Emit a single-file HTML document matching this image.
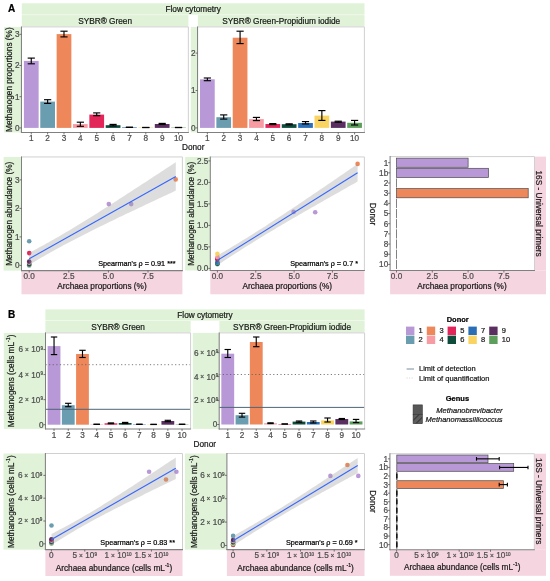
<!DOCTYPE html>
<html><head><meta charset="utf-8"><style>
html,body{margin:0;padding:0;background:#fff;}
svg{display:block;will-change:transform;filter:blur(0.35px);}
text{font-family:"Liberation Sans",sans-serif;}
</style></head><body>
<svg width="550" height="581" viewBox="0 0 550 581" font-family="Liberation Sans, sans-serif">
<rect x="0.00" y="0.00" width="550.00" height="581.00" fill="#FFFFFF" />
<text x="8.10" y="11.90" font-size="10" text-anchor="start" fill="#000" stroke="#000" stroke-width="0.22" font-weight="bold">A</text>
<rect x="21.80" y="3.30" width="342.70" height="11.30" fill="#E0F3D8" />
<text x="193.20" y="11.90" font-size="8.25" text-anchor="middle" fill="#1A1A1A" stroke="#1A1A1A" stroke-width="0.22" >Flow cytometry</text>
<rect x="21.80" y="15.10" width="166.60" height="11.30" fill="#E0F3D8" />
<text x="105.10" y="24.10" font-size="8.25" text-anchor="middle" fill="#1A1A1A" stroke="#1A1A1A" stroke-width="0.22" >SYBR® Green</text>
<rect x="197.90" y="15.10" width="166.60" height="11.30" fill="#E0F3D8" />
<text x="281.20" y="24.10" font-size="8.25" text-anchor="middle" fill="#1A1A1A" stroke="#1A1A1A" stroke-width="0.22" >SYBR® Green-Propidium iodide</text>
<rect x="4.10" y="26.90" width="17.35" height="105.55" fill="#E0F3D8" />
<rect x="21.45" y="26.90" width="166.90" height="105.55" fill="#FFFFFF" />
<rect x="23.90" y="60.90" width="14.73" height="67.00" fill="#B898D6" />
<rect x="40.27" y="101.60" width="14.73" height="26.30" fill="#6A9DB0" />
<rect x="56.63" y="34.10" width="14.73" height="93.80" fill="#EE885A" />
<rect x="72.99" y="124.10" width="14.73" height="3.80" fill="#F89CA3" />
<rect x="89.36" y="114.60" width="14.73" height="13.30" fill="#E3265A" />
<rect x="105.72" y="125.20" width="14.73" height="2.70" fill="#0E4C3C" />
<rect x="122.08" y="127.30" width="14.73" height="0.60" fill="#2A6EB6" />
<rect x="138.44" y="127.50" width="14.73" height="0.40" fill="#FAD463" />
<rect x="154.81" y="124.00" width="14.73" height="3.90" fill="#5A2E60" />
<rect x="171.17" y="127.50" width="14.73" height="0.40" fill="#5D9E5C" />
<line x1="31.27" y1="58.10" x2="31.27" y2="63.80" stroke="#000" stroke-width="1.15" />
<line x1="27.67" y1="58.10" x2="34.87" y2="58.10" stroke="#000" stroke-width="1.15" />
<line x1="27.67" y1="63.80" x2="34.87" y2="63.80" stroke="#000" stroke-width="1.15" />
<line x1="47.63" y1="99.70" x2="47.63" y2="103.40" stroke="#000" stroke-width="1.15" />
<line x1="44.03" y1="99.70" x2="51.23" y2="99.70" stroke="#000" stroke-width="1.15" />
<line x1="44.03" y1="103.40" x2="51.23" y2="103.40" stroke="#000" stroke-width="1.15" />
<line x1="63.99" y1="31.20" x2="63.99" y2="36.90" stroke="#000" stroke-width="1.15" />
<line x1="60.39" y1="31.20" x2="67.59" y2="31.20" stroke="#000" stroke-width="1.15" />
<line x1="60.39" y1="36.90" x2="67.59" y2="36.90" stroke="#000" stroke-width="1.15" />
<line x1="80.36" y1="122.20" x2="80.36" y2="126.30" stroke="#000" stroke-width="1.15" />
<line x1="76.76" y1="122.20" x2="83.96" y2="122.20" stroke="#000" stroke-width="1.15" />
<line x1="76.76" y1="126.30" x2="83.96" y2="126.30" stroke="#000" stroke-width="1.15" />
<line x1="96.72" y1="112.90" x2="96.72" y2="115.70" stroke="#000" stroke-width="1.15" />
<line x1="93.12" y1="112.90" x2="100.32" y2="112.90" stroke="#000" stroke-width="1.15" />
<line x1="93.12" y1="115.70" x2="100.32" y2="115.70" stroke="#000" stroke-width="1.15" />
<line x1="113.08" y1="124.40" x2="113.08" y2="125.90" stroke="#000" stroke-width="1.15" />
<line x1="109.48" y1="124.40" x2="116.68" y2="124.40" stroke="#000" stroke-width="1.15" />
<line x1="109.48" y1="125.90" x2="116.68" y2="125.90" stroke="#000" stroke-width="1.15" />
<line x1="129.44" y1="127.20" x2="129.44" y2="127.40" stroke="#000" stroke-width="1.15" />
<line x1="125.84" y1="127.20" x2="133.04" y2="127.20" stroke="#000" stroke-width="1.15" />
<line x1="125.84" y1="127.40" x2="133.04" y2="127.40" stroke="#000" stroke-width="1.15" />
<line x1="145.81" y1="127.40" x2="145.81" y2="127.60" stroke="#000" stroke-width="1.15" />
<line x1="142.21" y1="127.40" x2="149.41" y2="127.40" stroke="#000" stroke-width="1.15" />
<line x1="142.21" y1="127.60" x2="149.41" y2="127.60" stroke="#000" stroke-width="1.15" />
<line x1="162.17" y1="123.40" x2="162.17" y2="124.50" stroke="#000" stroke-width="1.15" />
<line x1="158.57" y1="123.40" x2="165.77" y2="123.40" stroke="#000" stroke-width="1.15" />
<line x1="158.57" y1="124.50" x2="165.77" y2="124.50" stroke="#000" stroke-width="1.15" />
<line x1="178.53" y1="127.40" x2="178.53" y2="127.60" stroke="#000" stroke-width="1.15" />
<line x1="174.93" y1="127.40" x2="182.13" y2="127.40" stroke="#000" stroke-width="1.15" />
<line x1="174.93" y1="127.60" x2="182.13" y2="127.60" stroke="#000" stroke-width="1.15" />
<line x1="21.45" y1="26.90" x2="188.35" y2="26.90" stroke="#D0D0D0" stroke-width="1" />
<line x1="188.35" y1="26.90" x2="188.35" y2="132.45" stroke="#D0D0D0" stroke-width="1" />
<line x1="21.45" y1="26.40" x2="21.45" y2="132.95" stroke="#808080" stroke-width="1.05" />
<line x1="20.95" y1="132.45" x2="188.85" y2="132.45" stroke="#808080" stroke-width="1.05" />
<line x1="19.45" y1="127.90" x2="21.45" y2="127.90" stroke="#555555" stroke-width="0.8" />
<text x="19.55" y="130.84" font-size="8.2" text-anchor="end" fill="#4D4D4D" stroke="#4D4D4D" stroke-width="0.22" >0</text>
<line x1="19.45" y1="96.70" x2="21.45" y2="96.70" stroke="#555555" stroke-width="0.8" />
<text x="19.55" y="99.64" font-size="8.2" text-anchor="end" fill="#4D4D4D" stroke="#4D4D4D" stroke-width="0.22" >1</text>
<line x1="19.45" y1="65.50" x2="21.45" y2="65.50" stroke="#555555" stroke-width="0.8" />
<text x="19.55" y="68.44" font-size="8.2" text-anchor="end" fill="#4D4D4D" stroke="#4D4D4D" stroke-width="0.22" >2</text>
<line x1="19.45" y1="34.30" x2="21.45" y2="34.30" stroke="#555555" stroke-width="0.8" />
<text x="19.55" y="37.24" font-size="8.2" text-anchor="end" fill="#4D4D4D" stroke="#4D4D4D" stroke-width="0.22" >3</text>
<line x1="31.27" y1="132.45" x2="31.27" y2="134.45" stroke="#555555" stroke-width="0.8" />
<text x="31.27" y="141.20" font-size="8.2" text-anchor="middle" fill="#4D4D4D" stroke="#4D4D4D" stroke-width="0.22" >1</text>
<line x1="47.63" y1="132.45" x2="47.63" y2="134.45" stroke="#555555" stroke-width="0.8" />
<text x="47.63" y="141.20" font-size="8.2" text-anchor="middle" fill="#4D4D4D" stroke="#4D4D4D" stroke-width="0.22" >2</text>
<line x1="63.99" y1="132.45" x2="63.99" y2="134.45" stroke="#555555" stroke-width="0.8" />
<text x="63.99" y="141.20" font-size="8.2" text-anchor="middle" fill="#4D4D4D" stroke="#4D4D4D" stroke-width="0.22" >3</text>
<line x1="80.36" y1="132.45" x2="80.36" y2="134.45" stroke="#555555" stroke-width="0.8" />
<text x="80.36" y="141.20" font-size="8.2" text-anchor="middle" fill="#4D4D4D" stroke="#4D4D4D" stroke-width="0.22" >4</text>
<line x1="96.72" y1="132.45" x2="96.72" y2="134.45" stroke="#555555" stroke-width="0.8" />
<text x="96.72" y="141.20" font-size="8.2" text-anchor="middle" fill="#4D4D4D" stroke="#4D4D4D" stroke-width="0.22" >5</text>
<line x1="113.08" y1="132.45" x2="113.08" y2="134.45" stroke="#555555" stroke-width="0.8" />
<text x="113.08" y="141.20" font-size="8.2" text-anchor="middle" fill="#4D4D4D" stroke="#4D4D4D" stroke-width="0.22" >6</text>
<line x1="129.44" y1="132.45" x2="129.44" y2="134.45" stroke="#555555" stroke-width="0.8" />
<text x="129.44" y="141.20" font-size="8.2" text-anchor="middle" fill="#4D4D4D" stroke="#4D4D4D" stroke-width="0.22" >7</text>
<line x1="145.81" y1="132.45" x2="145.81" y2="134.45" stroke="#555555" stroke-width="0.8" />
<text x="145.81" y="141.20" font-size="8.2" text-anchor="middle" fill="#4D4D4D" stroke="#4D4D4D" stroke-width="0.22" >8</text>
<line x1="162.17" y1="132.45" x2="162.17" y2="134.45" stroke="#555555" stroke-width="0.8" />
<text x="162.17" y="141.20" font-size="8.2" text-anchor="middle" fill="#4D4D4D" stroke="#4D4D4D" stroke-width="0.22" >9</text>
<line x1="178.53" y1="132.45" x2="178.53" y2="134.45" stroke="#555555" stroke-width="0.8" />
<text x="178.53" y="141.20" font-size="8.2" text-anchor="middle" fill="#4D4D4D" stroke="#4D4D4D" stroke-width="0.22" >10</text>
<text transform="translate(11.80,79.60) rotate(-90)" font-size="8.25" text-anchor="middle" fill="#1A1A1A" stroke="#1A1A1A" stroke-width="0.22" dy="0">Methanogen proportions (%)</text>
<rect x="190.80" y="26.90" width="6.75" height="105.55" fill="#E0F3D8" />
<rect x="197.55" y="26.90" width="166.85" height="105.55" fill="#FFFFFF" />
<rect x="200.00" y="79.30" width="14.72" height="48.60" fill="#B898D6" />
<rect x="216.36" y="117.20" width="14.72" height="10.70" fill="#6A9DB0" />
<rect x="232.72" y="37.70" width="14.72" height="90.20" fill="#EE885A" />
<rect x="249.08" y="119.10" width="14.72" height="8.80" fill="#F89CA3" />
<rect x="265.44" y="124.00" width="14.72" height="3.90" fill="#E3265A" />
<rect x="281.79" y="124.20" width="14.72" height="3.70" fill="#0E4C3C" />
<rect x="298.15" y="123.00" width="14.72" height="4.90" fill="#2A6EB6" />
<rect x="314.51" y="115.60" width="14.72" height="12.30" fill="#FAD463" />
<rect x="330.87" y="121.60" width="14.72" height="6.30" fill="#5A2E60" />
<rect x="347.22" y="122.80" width="14.72" height="5.10" fill="#5D9E5C" />
<line x1="207.36" y1="78.00" x2="207.36" y2="80.70" stroke="#000" stroke-width="1.15" />
<line x1="203.76" y1="78.00" x2="210.96" y2="78.00" stroke="#000" stroke-width="1.15" />
<line x1="203.76" y1="80.70" x2="210.96" y2="80.70" stroke="#000" stroke-width="1.15" />
<line x1="223.72" y1="114.90" x2="223.72" y2="119.10" stroke="#000" stroke-width="1.15" />
<line x1="220.12" y1="114.90" x2="227.32" y2="114.90" stroke="#000" stroke-width="1.15" />
<line x1="220.12" y1="119.10" x2="227.32" y2="119.10" stroke="#000" stroke-width="1.15" />
<line x1="240.08" y1="31.20" x2="240.08" y2="43.60" stroke="#000" stroke-width="1.15" />
<line x1="236.48" y1="31.20" x2="243.68" y2="31.20" stroke="#000" stroke-width="1.15" />
<line x1="236.48" y1="43.60" x2="243.68" y2="43.60" stroke="#000" stroke-width="1.15" />
<line x1="256.44" y1="117.40" x2="256.44" y2="120.60" stroke="#000" stroke-width="1.15" />
<line x1="252.84" y1="117.40" x2="260.04" y2="117.40" stroke="#000" stroke-width="1.15" />
<line x1="252.84" y1="120.60" x2="260.04" y2="120.60" stroke="#000" stroke-width="1.15" />
<line x1="272.80" y1="123.60" x2="272.80" y2="124.60" stroke="#000" stroke-width="1.15" />
<line x1="269.20" y1="123.60" x2="276.40" y2="123.60" stroke="#000" stroke-width="1.15" />
<line x1="269.20" y1="124.60" x2="276.40" y2="124.60" stroke="#000" stroke-width="1.15" />
<line x1="289.15" y1="123.80" x2="289.15" y2="124.80" stroke="#000" stroke-width="1.15" />
<line x1="285.55" y1="123.80" x2="292.75" y2="123.80" stroke="#000" stroke-width="1.15" />
<line x1="285.55" y1="124.80" x2="292.75" y2="124.80" stroke="#000" stroke-width="1.15" />
<line x1="305.51" y1="121.60" x2="305.51" y2="124.00" stroke="#000" stroke-width="1.15" />
<line x1="301.91" y1="121.60" x2="309.11" y2="121.60" stroke="#000" stroke-width="1.15" />
<line x1="301.91" y1="124.00" x2="309.11" y2="124.00" stroke="#000" stroke-width="1.15" />
<line x1="321.87" y1="110.60" x2="321.87" y2="120.40" stroke="#000" stroke-width="1.15" />
<line x1="318.27" y1="110.60" x2="325.47" y2="110.60" stroke="#000" stroke-width="1.15" />
<line x1="318.27" y1="120.40" x2="325.47" y2="120.40" stroke="#000" stroke-width="1.15" />
<line x1="338.23" y1="121.20" x2="338.23" y2="122.20" stroke="#000" stroke-width="1.15" />
<line x1="334.63" y1="121.20" x2="341.83" y2="121.20" stroke="#000" stroke-width="1.15" />
<line x1="334.63" y1="122.20" x2="341.83" y2="122.20" stroke="#000" stroke-width="1.15" />
<line x1="354.59" y1="120.40" x2="354.59" y2="125.00" stroke="#000" stroke-width="1.15" />
<line x1="350.99" y1="120.40" x2="358.19" y2="120.40" stroke="#000" stroke-width="1.15" />
<line x1="350.99" y1="125.00" x2="358.19" y2="125.00" stroke="#000" stroke-width="1.15" />
<line x1="197.55" y1="26.90" x2="364.40" y2="26.90" stroke="#D0D0D0" stroke-width="1" />
<line x1="364.40" y1="26.90" x2="364.40" y2="132.45" stroke="#D0D0D0" stroke-width="1" />
<line x1="197.55" y1="26.40" x2="197.55" y2="132.95" stroke="#808080" stroke-width="1.05" />
<line x1="197.05" y1="132.45" x2="364.90" y2="132.45" stroke="#808080" stroke-width="1.05" />
<line x1="195.55" y1="127.90" x2="197.55" y2="127.90" stroke="#555555" stroke-width="0.8" />
<text x="195.65" y="130.84" font-size="8.2" text-anchor="end" fill="#4D4D4D" stroke="#4D4D4D" stroke-width="0.22" >0</text>
<line x1="195.55" y1="90.50" x2="197.55" y2="90.50" stroke="#555555" stroke-width="0.8" />
<text x="195.65" y="93.44" font-size="8.2" text-anchor="end" fill="#4D4D4D" stroke="#4D4D4D" stroke-width="0.22" >1</text>
<line x1="195.55" y1="53.10" x2="197.55" y2="53.10" stroke="#555555" stroke-width="0.8" />
<text x="195.65" y="56.04" font-size="8.2" text-anchor="end" fill="#4D4D4D" stroke="#4D4D4D" stroke-width="0.22" >2</text>
<line x1="207.36" y1="132.45" x2="207.36" y2="134.45" stroke="#555555" stroke-width="0.8" />
<text x="207.36" y="141.20" font-size="8.2" text-anchor="middle" fill="#4D4D4D" stroke="#4D4D4D" stroke-width="0.22" >1</text>
<line x1="223.72" y1="132.45" x2="223.72" y2="134.45" stroke="#555555" stroke-width="0.8" />
<text x="223.72" y="141.20" font-size="8.2" text-anchor="middle" fill="#4D4D4D" stroke="#4D4D4D" stroke-width="0.22" >2</text>
<line x1="240.08" y1="132.45" x2="240.08" y2="134.45" stroke="#555555" stroke-width="0.8" />
<text x="240.08" y="141.20" font-size="8.2" text-anchor="middle" fill="#4D4D4D" stroke="#4D4D4D" stroke-width="0.22" >3</text>
<line x1="256.44" y1="132.45" x2="256.44" y2="134.45" stroke="#555555" stroke-width="0.8" />
<text x="256.44" y="141.20" font-size="8.2" text-anchor="middle" fill="#4D4D4D" stroke="#4D4D4D" stroke-width="0.22" >4</text>
<line x1="272.80" y1="132.45" x2="272.80" y2="134.45" stroke="#555555" stroke-width="0.8" />
<text x="272.80" y="141.20" font-size="8.2" text-anchor="middle" fill="#4D4D4D" stroke="#4D4D4D" stroke-width="0.22" >5</text>
<line x1="289.15" y1="132.45" x2="289.15" y2="134.45" stroke="#555555" stroke-width="0.8" />
<text x="289.15" y="141.20" font-size="8.2" text-anchor="middle" fill="#4D4D4D" stroke="#4D4D4D" stroke-width="0.22" >6</text>
<line x1="305.51" y1="132.45" x2="305.51" y2="134.45" stroke="#555555" stroke-width="0.8" />
<text x="305.51" y="141.20" font-size="8.2" text-anchor="middle" fill="#4D4D4D" stroke="#4D4D4D" stroke-width="0.22" >7</text>
<line x1="321.87" y1="132.45" x2="321.87" y2="134.45" stroke="#555555" stroke-width="0.8" />
<text x="321.87" y="141.20" font-size="8.2" text-anchor="middle" fill="#4D4D4D" stroke="#4D4D4D" stroke-width="0.22" >8</text>
<line x1="338.23" y1="132.45" x2="338.23" y2="134.45" stroke="#555555" stroke-width="0.8" />
<text x="338.23" y="141.20" font-size="8.2" text-anchor="middle" fill="#4D4D4D" stroke="#4D4D4D" stroke-width="0.22" >9</text>
<line x1="354.59" y1="132.45" x2="354.59" y2="134.45" stroke="#555555" stroke-width="0.8" />
<text x="354.59" y="141.20" font-size="8.2" text-anchor="middle" fill="#4D4D4D" stroke="#4D4D4D" stroke-width="0.22" >10</text>
<text x="193.20" y="150.30" font-size="8.25" text-anchor="middle" fill="#1A1A1A" stroke="#1A1A1A" stroke-width="0.22" >Donor</text>
<rect x="3.60" y="156.95" width="17.90" height="113.65" fill="#E0F3D8" />
<rect x="21.50" y="270.60" width="160.90" height="23.70" fill="#F5D6E0" />
<rect x="21.50" y="156.95" width="160.90" height="113.65" fill="#FFFFFF" />
<circle cx="29.20" cy="265.40" r="2.3" fill="#5D9E5C"/>
<circle cx="29.20" cy="265.20" r="2.3" fill="#FAD463"/>
<circle cx="29.20" cy="264.80" r="2.3" fill="#2A6EB6"/>
<circle cx="29.20" cy="263.80" r="2.3" fill="#0E4C3C"/>
<circle cx="29.20" cy="262.60" r="2.3" fill="#F89CA3"/>
<circle cx="29.20" cy="261.60" r="2.3" fill="#5A2E60"/>
<circle cx="29.20" cy="253.10" r="2.3" fill="#E3265A"/>
<circle cx="29.20" cy="241.20" r="2.3" fill="#6A9DB0"/>
<circle cx="108.80" cy="204.10" r="2.3" fill="#B898D6"/>
<circle cx="131.20" cy="204.10" r="2.3" fill="#B898D6"/>
<circle cx="175.70" cy="179.40" r="2.3" fill="#EE885A"/>
<path d="M29.20,252.80 L31.64,251.51 L34.09,250.22 L36.53,248.91 L38.97,247.59 L41.42,246.26 L43.86,244.92 L46.30,243.57 L48.75,242.21 L51.19,240.84 L53.63,239.45 L56.08,238.06 L58.52,236.65 L60.96,235.23 L63.41,233.80 L65.85,232.36 L68.29,230.91 L70.74,229.45 L73.18,227.99 L75.62,226.51 L78.07,225.02 L80.51,223.53 L82.95,222.03 L85.40,220.52 L87.84,219.00 L90.28,217.48 L92.73,215.95 L95.17,214.42 L97.61,212.88 L100.06,211.34 L102.50,209.79 L104.94,208.24 L107.39,206.68 L109.83,205.12 L112.27,203.56 L114.72,201.99 L117.16,200.42 L119.60,198.85 L122.05,197.27 L124.49,195.70 L126.93,194.12 L129.38,192.54 L131.82,190.95 L134.26,189.37 L136.71,187.78 L139.15,186.19 L141.59,184.60 L144.04,183.01 L146.48,181.41 L148.92,179.82 L151.37,178.22 L153.81,176.62 L156.25,175.02 L158.70,173.42 L161.14,171.82 L163.58,170.22 L166.03,168.62 L168.47,167.02 L170.91,165.41 L173.36,163.81 L175.80,162.20 L175.80,190.60 L173.36,191.74 L170.91,192.88 L168.47,194.02 L166.03,195.17 L163.58,196.31 L161.14,197.46 L158.70,198.60 L156.25,199.75 L153.81,200.90 L151.37,202.05 L148.92,203.20 L146.48,204.35 L144.04,205.50 L141.59,206.66 L139.15,207.81 L136.71,208.97 L134.26,210.13 L131.82,211.29 L129.38,212.45 L126.93,213.62 L124.49,214.78 L122.05,215.95 L119.60,217.12 L117.16,218.30 L114.72,219.48 L112.27,220.66 L109.83,221.84 L107.39,223.03 L104.94,224.22 L102.50,225.41 L100.06,226.61 L97.61,227.81 L95.17,229.02 L92.73,230.23 L90.28,231.45 L87.84,232.68 L85.40,233.91 L82.95,235.15 L80.51,236.39 L78.07,237.64 L75.62,238.91 L73.18,240.17 L70.74,241.45 L68.29,242.74 L65.85,244.04 L63.41,245.34 L60.96,246.66 L58.52,247.99 L56.08,249.33 L53.63,250.68 L51.19,252.04 L48.75,253.41 L46.30,254.80 L43.86,256.20 L41.42,257.60 L38.97,259.02 L36.53,260.45 L34.09,261.89 L31.64,263.34 L29.20,264.80 Z" fill="#999999" fill-opacity="0.33"/>
<line x1="29.20" y1="258.80" x2="175.80" y2="176.40" stroke="#3366FF" stroke-width="1.1" />
<text x="175.60" y="265.90" font-size="7.25" text-anchor="end" fill="#000" stroke="#000" stroke-width="0.22" >Spearman's ρ = 0.91 ***</text>
<line x1="21.50" y1="156.95" x2="182.40" y2="156.95" stroke="#D0D0D0" stroke-width="1" />
<line x1="182.40" y1="156.95" x2="182.40" y2="270.60" stroke="#D0D0D0" stroke-width="1" />
<line x1="21.50" y1="156.45" x2="21.50" y2="271.10" stroke="#808080" stroke-width="1.05" />
<line x1="21.00" y1="270.60" x2="182.90" y2="270.60" stroke="#808080" stroke-width="1.05" />
<line x1="19.50" y1="265.40" x2="21.50" y2="265.40" stroke="#555555" stroke-width="0.8" />
<text x="19.60" y="268.34" font-size="8.2" text-anchor="end" fill="#4D4D4D" stroke="#4D4D4D" stroke-width="0.22" >0</text>
<line x1="19.50" y1="236.90" x2="21.50" y2="236.90" stroke="#555555" stroke-width="0.8" />
<text x="19.60" y="239.84" font-size="8.2" text-anchor="end" fill="#4D4D4D" stroke="#4D4D4D" stroke-width="0.22" >1</text>
<line x1="19.50" y1="208.40" x2="21.50" y2="208.40" stroke="#555555" stroke-width="0.8" />
<text x="19.60" y="211.34" font-size="8.2" text-anchor="end" fill="#4D4D4D" stroke="#4D4D4D" stroke-width="0.22" >2</text>
<line x1="19.50" y1="179.90" x2="21.50" y2="179.90" stroke="#555555" stroke-width="0.8" />
<text x="19.60" y="182.84" font-size="8.2" text-anchor="end" fill="#4D4D4D" stroke="#4D4D4D" stroke-width="0.22" >3</text>
<line x1="29.20" y1="270.60" x2="29.20" y2="272.60" stroke="#555555" stroke-width="0.8" />
<text x="29.20" y="279.30" font-size="8.2" text-anchor="middle" fill="#4D4D4D" stroke="#4D4D4D" stroke-width="0.22" >0.0</text>
<line x1="68.80" y1="270.60" x2="68.80" y2="272.60" stroke="#555555" stroke-width="0.8" />
<text x="68.80" y="279.30" font-size="8.2" text-anchor="middle" fill="#4D4D4D" stroke="#4D4D4D" stroke-width="0.22" >2.5</text>
<line x1="108.40" y1="270.60" x2="108.40" y2="272.60" stroke="#555555" stroke-width="0.8" />
<text x="108.40" y="279.30" font-size="8.2" text-anchor="middle" fill="#4D4D4D" stroke="#4D4D4D" stroke-width="0.22" >5.0</text>
<line x1="148.00" y1="270.60" x2="148.00" y2="272.60" stroke="#555555" stroke-width="0.8" />
<text x="148.00" y="279.30" font-size="8.2" text-anchor="middle" fill="#4D4D4D" stroke="#4D4D4D" stroke-width="0.22" >7.5</text>
<text transform="translate(12.00,213.80) rotate(-90)" font-size="8.25" text-anchor="middle" fill="#1A1A1A" stroke="#1A1A1A" stroke-width="0.22" dy="0">Methanogen abundance (%)</text>
<text x="102.00" y="288.80" font-size="8.25" text-anchor="middle" fill="#1A1A1A" stroke="#1A1A1A" stroke-width="0.22" >Archaea proportions (%)</text>
<rect x="185.20" y="156.95" width="25.10" height="113.55" fill="#E0F3D8" />
<rect x="210.30" y="270.50" width="154.10" height="23.80" fill="#F5D6E0" />
<rect x="210.30" y="156.95" width="154.10" height="113.55" fill="#FFFFFF" />
<circle cx="217.40" cy="264.20" r="2.3" fill="#6A9DB0"/>
<circle cx="217.40" cy="263.60" r="2.3" fill="#0E4C3C"/>
<circle cx="217.40" cy="263.00" r="2.3" fill="#5D9E5C"/>
<circle cx="217.40" cy="262.40" r="2.3" fill="#2A6EB6"/>
<circle cx="217.40" cy="259.20" r="2.3" fill="#5A2E60"/>
<circle cx="217.40" cy="258.60" r="2.3" fill="#E3265A"/>
<circle cx="217.40" cy="257.00" r="2.3" fill="#F89CA3"/>
<circle cx="217.40" cy="253.80" r="2.3" fill="#FAD463"/>
<circle cx="293.60" cy="211.90" r="2.3" fill="#B898D6"/>
<circle cx="315.20" cy="212.20" r="2.3" fill="#B898D6"/>
<circle cx="357.60" cy="163.90" r="2.3" fill="#EE885A"/>
<path d="M217.40,255.59 L219.74,254.21 L222.07,252.83 L224.41,251.43 L226.75,250.04 L229.08,248.64 L231.42,247.23 L233.76,245.82 L236.09,244.40 L238.43,242.98 L240.77,241.55 L243.10,240.11 L245.44,238.67 L247.78,237.22 L250.11,235.76 L252.45,234.30 L254.79,232.83 L257.12,231.35 L259.46,229.87 L261.80,228.38 L264.13,226.88 L266.47,225.38 L268.81,223.87 L271.14,222.35 L273.48,220.83 L275.82,219.31 L278.15,217.78 L280.49,216.24 L282.83,214.70 L285.16,213.16 L287.50,211.61 L289.84,210.06 L292.17,208.50 L294.51,206.94 L296.85,205.38 L299.18,203.81 L301.52,202.24 L303.86,200.67 L306.19,199.09 L308.53,197.52 L310.87,195.94 L313.20,194.35 L315.54,192.77 L317.88,191.18 L320.21,189.59 L322.55,188.00 L324.89,186.41 L327.22,184.82 L329.56,183.23 L331.90,181.63 L334.23,180.03 L336.57,178.43 L338.91,176.83 L341.24,175.23 L343.58,173.63 L345.92,172.03 L348.25,170.42 L350.59,168.82 L352.93,167.21 L355.26,165.61 L357.60,164.00 L357.60,181.60 L355.26,182.91 L352.93,184.23 L350.59,185.54 L348.25,186.86 L345.92,188.17 L343.58,189.49 L341.24,190.81 L338.91,192.13 L336.57,193.45 L334.23,194.77 L331.90,196.09 L329.56,197.41 L327.22,198.74 L324.89,200.07 L322.55,201.40 L320.21,202.73 L317.88,204.06 L315.54,205.39 L313.20,206.73 L310.87,208.06 L308.53,209.40 L306.19,210.75 L303.86,212.09 L301.52,213.44 L299.18,214.79 L296.85,216.14 L294.51,217.50 L292.17,218.86 L289.84,220.22 L287.50,221.59 L285.16,222.96 L282.83,224.34 L280.49,225.72 L278.15,227.10 L275.82,228.49 L273.48,229.89 L271.14,231.29 L268.81,232.69 L266.47,234.10 L264.13,235.52 L261.80,236.94 L259.46,238.37 L257.12,239.81 L254.79,241.25 L252.45,242.70 L250.11,244.16 L247.78,245.62 L245.44,247.09 L243.10,248.57 L240.77,250.05 L238.43,251.54 L236.09,253.04 L233.76,254.54 L231.42,256.05 L229.08,257.56 L226.75,259.08 L224.41,260.61 L222.07,262.13 L219.74,263.67 L217.40,265.21 Z" fill="#999999" fill-opacity="0.33"/>
<line x1="217.40" y1="260.40" x2="357.60" y2="172.80" stroke="#3366FF" stroke-width="1.1" />
<text x="358.00" y="265.90" font-size="7.25" text-anchor="end" fill="#000" stroke="#000" stroke-width="0.22" >Spearman's ρ = 0.7 *</text>
<line x1="210.30" y1="156.95" x2="364.40" y2="156.95" stroke="#D0D0D0" stroke-width="1" />
<line x1="364.40" y1="156.95" x2="364.40" y2="270.50" stroke="#D0D0D0" stroke-width="1" />
<line x1="210.30" y1="156.45" x2="210.30" y2="271.00" stroke="#808080" stroke-width="1.05" />
<line x1="209.80" y1="270.50" x2="364.90" y2="270.50" stroke="#808080" stroke-width="1.05" />
<line x1="208.30" y1="268.40" x2="210.30" y2="268.40" stroke="#555555" stroke-width="0.8" />
<text x="208.40" y="271.34" font-size="8.2" text-anchor="end" fill="#4D4D4D" stroke="#4D4D4D" stroke-width="0.22" >0.0</text>
<line x1="208.30" y1="246.90" x2="210.30" y2="246.90" stroke="#555555" stroke-width="0.8" />
<text x="208.40" y="249.84" font-size="8.2" text-anchor="end" fill="#4D4D4D" stroke="#4D4D4D" stroke-width="0.22" >0.5</text>
<line x1="208.30" y1="225.40" x2="210.30" y2="225.40" stroke="#555555" stroke-width="0.8" />
<text x="208.40" y="228.34" font-size="8.2" text-anchor="end" fill="#4D4D4D" stroke="#4D4D4D" stroke-width="0.22" >1.0</text>
<line x1="208.30" y1="203.90" x2="210.30" y2="203.90" stroke="#555555" stroke-width="0.8" />
<text x="208.40" y="206.84" font-size="8.2" text-anchor="end" fill="#4D4D4D" stroke="#4D4D4D" stroke-width="0.22" >1.5</text>
<line x1="208.30" y1="182.40" x2="210.30" y2="182.40" stroke="#555555" stroke-width="0.8" />
<text x="208.40" y="185.34" font-size="8.2" text-anchor="end" fill="#4D4D4D" stroke="#4D4D4D" stroke-width="0.22" >2.0</text>
<line x1="208.30" y1="160.90" x2="210.30" y2="160.90" stroke="#555555" stroke-width="0.8" />
<text x="208.40" y="163.84" font-size="8.2" text-anchor="end" fill="#4D4D4D" stroke="#4D4D4D" stroke-width="0.22" >2.5</text>
<line x1="217.40" y1="270.50" x2="217.40" y2="272.50" stroke="#555555" stroke-width="0.8" />
<text x="217.40" y="279.30" font-size="8.2" text-anchor="middle" fill="#4D4D4D" stroke="#4D4D4D" stroke-width="0.22" >0.0</text>
<line x1="255.75" y1="270.50" x2="255.75" y2="272.50" stroke="#555555" stroke-width="0.8" />
<text x="255.75" y="279.30" font-size="8.2" text-anchor="middle" fill="#4D4D4D" stroke="#4D4D4D" stroke-width="0.22" >2.5</text>
<line x1="294.10" y1="270.50" x2="294.10" y2="272.50" stroke="#555555" stroke-width="0.8" />
<text x="294.10" y="279.30" font-size="8.2" text-anchor="middle" fill="#4D4D4D" stroke="#4D4D4D" stroke-width="0.22" >5.0</text>
<line x1="332.45" y1="270.50" x2="332.45" y2="272.50" stroke="#555555" stroke-width="0.8" />
<text x="332.45" y="279.30" font-size="8.2" text-anchor="middle" fill="#4D4D4D" stroke="#4D4D4D" stroke-width="0.22" >7.5</text>
<text transform="translate(194.30,213.80) rotate(-90)" font-size="8.25" text-anchor="middle" fill="#1A1A1A" stroke="#1A1A1A" stroke-width="0.22" dy="0">Methanogen abundance (%)</text>
<text x="287.30" y="288.80" font-size="8.25" text-anchor="middle" fill="#1A1A1A" stroke="#1A1A1A" stroke-width="0.22" >Archaea proportions (%)</text>
<rect x="390.10" y="270.50" width="155.90" height="23.80" fill="#F5D6E0" />
<rect x="534.50" y="156.60" width="11.50" height="113.90" fill="#F5D6E0" />
<text transform="translate(539.00,213.60) rotate(90)" font-size="8.25" text-anchor="middle" fill="#1A1A1A" stroke="#1A1A1A" stroke-width="0.22" dy="2.9">16S - Universal primers</text>
<rect x="390.10" y="156.60" width="144.40" height="113.90" fill="#FFFFFF" />
<rect x="396.50" y="158.13" width="71.60" height="9.15" fill="#B898D6" stroke="#4A4A4A" stroke-width="0.7"/>
<rect x="396.50" y="168.30" width="92.00" height="9.15" fill="#B898D6" stroke="#4A4A4A" stroke-width="0.7"/>
<line x1="396.50" y1="178.46" x2="396.50" y2="187.62" stroke="#4A4A4A" stroke-width="0.7" />
<rect x="396.50" y="188.63" width="131.70" height="9.15" fill="#EE885A" stroke="#4A4A4A" stroke-width="0.7"/>
<line x1="396.50" y1="198.80" x2="396.50" y2="207.96" stroke="#4A4A4A" stroke-width="0.7" />
<line x1="396.50" y1="208.97" x2="396.50" y2="218.13" stroke="#4A4A4A" stroke-width="0.7" />
<line x1="396.50" y1="219.14" x2="396.50" y2="228.30" stroke="#4A4A4A" stroke-width="0.7" />
<line x1="396.50" y1="229.31" x2="396.50" y2="238.47" stroke="#4A4A4A" stroke-width="0.7" />
<line x1="396.50" y1="239.48" x2="396.50" y2="248.64" stroke="#4A4A4A" stroke-width="0.7" />
<line x1="396.50" y1="249.65" x2="396.50" y2="258.80" stroke="#4A4A4A" stroke-width="0.7" />
<line x1="396.50" y1="259.82" x2="396.50" y2="268.97" stroke="#4A4A4A" stroke-width="0.7" />
<line x1="390.10" y1="156.60" x2="534.50" y2="156.60" stroke="#D0D0D0" stroke-width="1" />
<line x1="534.50" y1="156.60" x2="534.50" y2="270.50" stroke="#D0D0D0" stroke-width="1" />
<line x1="390.10" y1="156.10" x2="390.10" y2="271.00" stroke="#808080" stroke-width="1.05" />
<line x1="389.60" y1="270.50" x2="535.00" y2="270.50" stroke="#808080" stroke-width="1.05" />
<line x1="388.10" y1="162.70" x2="390.10" y2="162.70" stroke="#555555" stroke-width="0.8" />
<text x="388.20" y="165.64" font-size="8.2" text-anchor="end" fill="#4D4D4D" stroke="#4D4D4D" stroke-width="0.22" >1</text>
<line x1="388.10" y1="172.87" x2="390.10" y2="172.87" stroke="#555555" stroke-width="0.8" />
<text x="388.20" y="175.81" font-size="8.2" text-anchor="end" fill="#4D4D4D" stroke="#4D4D4D" stroke-width="0.22" >1b</text>
<line x1="388.10" y1="183.04" x2="390.10" y2="183.04" stroke="#555555" stroke-width="0.8" />
<text x="388.20" y="185.98" font-size="8.2" text-anchor="end" fill="#4D4D4D" stroke="#4D4D4D" stroke-width="0.22" >2</text>
<line x1="388.10" y1="193.21" x2="390.10" y2="193.21" stroke="#555555" stroke-width="0.8" />
<text x="388.20" y="196.15" font-size="8.2" text-anchor="end" fill="#4D4D4D" stroke="#4D4D4D" stroke-width="0.22" >3</text>
<line x1="388.10" y1="203.38" x2="390.10" y2="203.38" stroke="#555555" stroke-width="0.8" />
<text x="388.20" y="206.32" font-size="8.2" text-anchor="end" fill="#4D4D4D" stroke="#4D4D4D" stroke-width="0.22" >4</text>
<line x1="388.10" y1="213.55" x2="390.10" y2="213.55" stroke="#555555" stroke-width="0.8" />
<text x="388.20" y="216.49" font-size="8.2" text-anchor="end" fill="#4D4D4D" stroke="#4D4D4D" stroke-width="0.22" >5</text>
<line x1="388.10" y1="223.72" x2="390.10" y2="223.72" stroke="#555555" stroke-width="0.8" />
<text x="388.20" y="226.66" font-size="8.2" text-anchor="end" fill="#4D4D4D" stroke="#4D4D4D" stroke-width="0.22" >6</text>
<line x1="388.10" y1="233.89" x2="390.10" y2="233.89" stroke="#555555" stroke-width="0.8" />
<text x="388.20" y="236.82" font-size="8.2" text-anchor="end" fill="#4D4D4D" stroke="#4D4D4D" stroke-width="0.22" >7</text>
<line x1="388.10" y1="244.06" x2="390.10" y2="244.06" stroke="#555555" stroke-width="0.8" />
<text x="388.20" y="246.99" font-size="8.2" text-anchor="end" fill="#4D4D4D" stroke="#4D4D4D" stroke-width="0.22" >8</text>
<line x1="388.10" y1="254.23" x2="390.10" y2="254.23" stroke="#555555" stroke-width="0.8" />
<text x="388.20" y="257.16" font-size="8.2" text-anchor="end" fill="#4D4D4D" stroke="#4D4D4D" stroke-width="0.22" >9</text>
<line x1="388.10" y1="264.40" x2="390.10" y2="264.40" stroke="#555555" stroke-width="0.8" />
<text x="388.20" y="267.33" font-size="8.2" text-anchor="end" fill="#4D4D4D" stroke="#4D4D4D" stroke-width="0.22" >10</text>
<line x1="396.50" y1="270.50" x2="396.50" y2="272.50" stroke="#555555" stroke-width="0.8" />
<text x="396.50" y="279.00" font-size="8.2" text-anchor="middle" fill="#4D4D4D" stroke="#4D4D4D" stroke-width="0.22" >0.0</text>
<line x1="432.30" y1="270.50" x2="432.30" y2="272.50" stroke="#555555" stroke-width="0.8" />
<text x="432.30" y="279.00" font-size="8.2" text-anchor="middle" fill="#4D4D4D" stroke="#4D4D4D" stroke-width="0.22" >2.5</text>
<line x1="468.10" y1="270.50" x2="468.10" y2="272.50" stroke="#555555" stroke-width="0.8" />
<text x="468.10" y="279.00" font-size="8.2" text-anchor="middle" fill="#4D4D4D" stroke="#4D4D4D" stroke-width="0.22" >5.0</text>
<line x1="503.90" y1="270.50" x2="503.90" y2="272.50" stroke="#555555" stroke-width="0.8" />
<text x="503.90" y="279.00" font-size="8.2" text-anchor="middle" fill="#4D4D4D" stroke="#4D4D4D" stroke-width="0.22" >7.5</text>
<text transform="translate(369.90,214.10) rotate(90)" font-size="8.25" text-anchor="middle" fill="#1A1A1A" stroke="#1A1A1A" stroke-width="0.22" dy="0">Donor</text>
<text x="462.00" y="288.60" font-size="8.25" text-anchor="middle" fill="#1A1A1A" stroke="#1A1A1A" stroke-width="0.22" >Archaea proportions (%)</text>
<text x="8.10" y="317.80" font-size="10" text-anchor="start" fill="#000" stroke="#000" stroke-width="0.22" font-weight="bold">B</text>
<rect x="45.40" y="309.40" width="319.20" height="11.10" fill="#E0F3D8" />
<text x="205.00" y="318.00" font-size="8.25" text-anchor="middle" fill="#1A1A1A" stroke="#1A1A1A" stroke-width="0.22" >Flow cytometry</text>
<rect x="45.40" y="321.00" width="145.30" height="11.40" fill="#E0F3D8" />
<text x="118.05" y="330.00" font-size="8.25" text-anchor="middle" fill="#1A1A1A" stroke="#1A1A1A" stroke-width="0.22" >SYBR® Green</text>
<rect x="219.40" y="321.00" width="145.20" height="11.40" fill="#E0F3D8" />
<text x="292.00" y="330.00" font-size="8.25" text-anchor="middle" fill="#1A1A1A" stroke="#1A1A1A" stroke-width="0.22" >SYBR® Green-Propidium iodide</text>
<rect x="3.80" y="332.90" width="41.70" height="96.00" fill="#E0F3D8" />
<rect x="45.50" y="332.90" width="145.10" height="96.00" fill="#FFFFFF" />
<rect x="47.63" y="346.10" width="12.80" height="78.60" fill="#B898D6" />
<rect x="61.86" y="405.20" width="12.80" height="19.50" fill="#6A9DB0" />
<rect x="76.08" y="354.00" width="12.80" height="70.70" fill="#EE885A" />
<rect x="90.31" y="424.30" width="12.80" height="0.40" fill="#F89CA3" />
<rect x="104.54" y="423.30" width="12.80" height="1.40" fill="#E3265A" />
<rect x="118.76" y="423.00" width="12.80" height="1.70" fill="#0E4C3C" />
<rect x="132.99" y="424.30" width="12.80" height="0.40" fill="#2A6EB6" />
<rect x="147.21" y="424.40" width="12.80" height="0.30" fill="#FAD463" />
<rect x="161.44" y="421.00" width="12.80" height="3.70" fill="#5A2E60" />
<rect x="175.66" y="424.30" width="12.80" height="0.40" fill="#5D9E5C" />
<line x1="54.04" y1="337.00" x2="54.04" y2="354.60" stroke="#000" stroke-width="1.15" />
<line x1="50.84" y1="337.00" x2="57.24" y2="337.00" stroke="#000" stroke-width="1.15" />
<line x1="50.84" y1="354.60" x2="57.24" y2="354.60" stroke="#000" stroke-width="1.15" />
<line x1="68.26" y1="403.30" x2="68.26" y2="406.70" stroke="#000" stroke-width="1.15" />
<line x1="65.06" y1="403.30" x2="71.46" y2="403.30" stroke="#000" stroke-width="1.15" />
<line x1="65.06" y1="406.70" x2="71.46" y2="406.70" stroke="#000" stroke-width="1.15" />
<line x1="82.49" y1="350.30" x2="82.49" y2="357.50" stroke="#000" stroke-width="1.15" />
<line x1="79.29" y1="350.30" x2="85.69" y2="350.30" stroke="#000" stroke-width="1.15" />
<line x1="79.29" y1="357.50" x2="85.69" y2="357.50" stroke="#000" stroke-width="1.15" />
<line x1="96.71" y1="424.20" x2="96.71" y2="424.40" stroke="#000" stroke-width="1.15" />
<line x1="93.51" y1="424.20" x2="99.91" y2="424.20" stroke="#000" stroke-width="1.15" />
<line x1="93.51" y1="424.40" x2="99.91" y2="424.40" stroke="#000" stroke-width="1.15" />
<line x1="110.94" y1="422.90" x2="110.94" y2="423.70" stroke="#000" stroke-width="1.15" />
<line x1="107.74" y1="422.90" x2="114.14" y2="422.90" stroke="#000" stroke-width="1.15" />
<line x1="107.74" y1="423.70" x2="114.14" y2="423.70" stroke="#000" stroke-width="1.15" />
<line x1="125.16" y1="422.40" x2="125.16" y2="423.60" stroke="#000" stroke-width="1.15" />
<line x1="121.96" y1="422.40" x2="128.36" y2="422.40" stroke="#000" stroke-width="1.15" />
<line x1="121.96" y1="423.60" x2="128.36" y2="423.60" stroke="#000" stroke-width="1.15" />
<line x1="139.39" y1="424.20" x2="139.39" y2="424.40" stroke="#000" stroke-width="1.15" />
<line x1="136.19" y1="424.20" x2="142.59" y2="424.20" stroke="#000" stroke-width="1.15" />
<line x1="136.19" y1="424.40" x2="142.59" y2="424.40" stroke="#000" stroke-width="1.15" />
<line x1="153.61" y1="424.30" x2="153.61" y2="424.50" stroke="#000" stroke-width="1.15" />
<line x1="150.41" y1="424.30" x2="156.81" y2="424.30" stroke="#000" stroke-width="1.15" />
<line x1="150.41" y1="424.50" x2="156.81" y2="424.50" stroke="#000" stroke-width="1.15" />
<line x1="167.84" y1="420.30" x2="167.84" y2="421.70" stroke="#000" stroke-width="1.15" />
<line x1="164.64" y1="420.30" x2="171.04" y2="420.30" stroke="#000" stroke-width="1.15" />
<line x1="164.64" y1="421.70" x2="171.04" y2="421.70" stroke="#000" stroke-width="1.15" />
<line x1="182.06" y1="424.20" x2="182.06" y2="424.40" stroke="#000" stroke-width="1.15" />
<line x1="178.86" y1="424.20" x2="185.26" y2="424.20" stroke="#000" stroke-width="1.15" />
<line x1="178.86" y1="424.40" x2="185.26" y2="424.40" stroke="#000" stroke-width="1.15" />
<line x1="45.50" y1="364.70" x2="190.60" y2="364.70" stroke="#5A5A5A" stroke-width="0.8" stroke-dasharray="1.2 2.4"/>
<line x1="45.50" y1="409.30" x2="190.60" y2="409.30" stroke="#4E6677" stroke-width="1.0" />
<line x1="45.50" y1="332.90" x2="190.60" y2="332.90" stroke="#D0D0D0" stroke-width="1" />
<line x1="190.60" y1="332.90" x2="190.60" y2="428.90" stroke="#D0D0D0" stroke-width="1" />
<line x1="45.50" y1="332.40" x2="45.50" y2="429.40" stroke="#808080" stroke-width="1.05" />
<line x1="45.00" y1="428.90" x2="191.10" y2="428.90" stroke="#808080" stroke-width="1.05" />
<line x1="43.50" y1="424.70" x2="45.50" y2="424.70" stroke="#555555" stroke-width="0.8" />
<text x="43.60" y="427.64" font-size="8.2" text-anchor="end" fill="#4D4D4D" stroke="#4D4D4D" stroke-width="0.22" >0</text>
<line x1="43.50" y1="399.65" x2="45.50" y2="399.65" stroke="#555555" stroke-width="0.8" />
<text x="43.00" y="402.59" font-size="8.2" text-anchor="end" fill="#4D4D4D" stroke="#4D4D4D" stroke-width="0.22">2<tspan dx="-0.5"> </tspan><tspan font-size="6.56" dy="-0.5">×</tspan><tspan dy="0.5" dx="0.2"> 10</tspan><tspan font-size="4.59" dy="-2.46" dx="0.1">9</tspan></text>
<line x1="43.50" y1="374.60" x2="45.50" y2="374.60" stroke="#555555" stroke-width="0.8" />
<text x="43.00" y="377.54" font-size="8.2" text-anchor="end" fill="#4D4D4D" stroke="#4D4D4D" stroke-width="0.22">4<tspan dx="-0.5"> </tspan><tspan font-size="6.56" dy="-0.5">×</tspan><tspan dy="0.5" dx="0.2"> 10</tspan><tspan font-size="4.59" dy="-2.46" dx="0.1">9</tspan></text>
<line x1="43.50" y1="349.55" x2="45.50" y2="349.55" stroke="#555555" stroke-width="0.8" />
<text x="43.00" y="352.49" font-size="8.2" text-anchor="end" fill="#4D4D4D" stroke="#4D4D4D" stroke-width="0.22">6<tspan dx="-0.5"> </tspan><tspan font-size="6.56" dy="-0.5">×</tspan><tspan dy="0.5" dx="0.2"> 10</tspan><tspan font-size="4.59" dy="-2.46" dx="0.1">9</tspan></text>
<line x1="54.04" y1="428.90" x2="54.04" y2="430.90" stroke="#555555" stroke-width="0.8" />
<text x="54.04" y="438.00" font-size="8.2" text-anchor="middle" fill="#4D4D4D" stroke="#4D4D4D" stroke-width="0.22" >1</text>
<line x1="68.26" y1="428.90" x2="68.26" y2="430.90" stroke="#555555" stroke-width="0.8" />
<text x="68.26" y="438.00" font-size="8.2" text-anchor="middle" fill="#4D4D4D" stroke="#4D4D4D" stroke-width="0.22" >2</text>
<line x1="82.49" y1="428.90" x2="82.49" y2="430.90" stroke="#555555" stroke-width="0.8" />
<text x="82.49" y="438.00" font-size="8.2" text-anchor="middle" fill="#4D4D4D" stroke="#4D4D4D" stroke-width="0.22" >3</text>
<line x1="96.71" y1="428.90" x2="96.71" y2="430.90" stroke="#555555" stroke-width="0.8" />
<text x="96.71" y="438.00" font-size="8.2" text-anchor="middle" fill="#4D4D4D" stroke="#4D4D4D" stroke-width="0.22" >4</text>
<line x1="110.94" y1="428.90" x2="110.94" y2="430.90" stroke="#555555" stroke-width="0.8" />
<text x="110.94" y="438.00" font-size="8.2" text-anchor="middle" fill="#4D4D4D" stroke="#4D4D4D" stroke-width="0.22" >5</text>
<line x1="125.16" y1="428.90" x2="125.16" y2="430.90" stroke="#555555" stroke-width="0.8" />
<text x="125.16" y="438.00" font-size="8.2" text-anchor="middle" fill="#4D4D4D" stroke="#4D4D4D" stroke-width="0.22" >6</text>
<line x1="139.39" y1="428.90" x2="139.39" y2="430.90" stroke="#555555" stroke-width="0.8" />
<text x="139.39" y="438.00" font-size="8.2" text-anchor="middle" fill="#4D4D4D" stroke="#4D4D4D" stroke-width="0.22" >7</text>
<line x1="153.61" y1="428.90" x2="153.61" y2="430.90" stroke="#555555" stroke-width="0.8" />
<text x="153.61" y="438.00" font-size="8.2" text-anchor="middle" fill="#4D4D4D" stroke="#4D4D4D" stroke-width="0.22" >8</text>
<line x1="167.84" y1="428.90" x2="167.84" y2="430.90" stroke="#555555" stroke-width="0.8" />
<text x="167.84" y="438.00" font-size="8.2" text-anchor="middle" fill="#4D4D4D" stroke="#4D4D4D" stroke-width="0.22" >9</text>
<line x1="182.06" y1="428.90" x2="182.06" y2="430.90" stroke="#555555" stroke-width="0.8" />
<text x="182.06" y="438.00" font-size="8.2" text-anchor="middle" fill="#4D4D4D" stroke="#4D4D4D" stroke-width="0.22" >10</text>
<text transform="translate(14.20,380.90) rotate(-90)" font-size="8.25" text-anchor="middle" fill="#1A1A1A" stroke="#1A1A1A" stroke-width="0.22" dy="0">Methanogens (cells mL<tspan font-size="5.2" dy="-3.9">-1</tspan><tspan dy="3.9">)</tspan></text>
<rect x="192.80" y="332.90" width="26.40" height="96.00" fill="#E0F3D8" />
<rect x="219.20" y="332.90" width="145.40" height="96.00" fill="#FFFFFF" />
<rect x="221.34" y="353.70" width="12.83" height="70.80" fill="#B898D6" />
<rect x="235.59" y="415.20" width="12.83" height="9.30" fill="#6A9DB0" />
<rect x="249.85" y="342.00" width="12.83" height="82.50" fill="#EE885A" />
<rect x="264.10" y="423.20" width="12.83" height="1.30" fill="#F89CA3" />
<rect x="278.36" y="424.00" width="12.83" height="0.50" fill="#E3265A" />
<rect x="292.61" y="421.60" width="12.83" height="2.90" fill="#0E4C3C" />
<rect x="306.87" y="422.00" width="12.83" height="2.50" fill="#2A6EB6" />
<rect x="321.12" y="420.40" width="12.83" height="4.10" fill="#FAD463" />
<rect x="335.38" y="419.00" width="12.83" height="5.50" fill="#5A2E60" />
<rect x="349.63" y="421.40" width="12.83" height="3.10" fill="#5D9E5C" />
<line x1="227.75" y1="349.50" x2="227.75" y2="357.50" stroke="#000" stroke-width="1.15" />
<line x1="224.55" y1="349.50" x2="230.95" y2="349.50" stroke="#000" stroke-width="1.15" />
<line x1="224.55" y1="357.50" x2="230.95" y2="357.50" stroke="#000" stroke-width="1.15" />
<line x1="242.01" y1="413.30" x2="242.01" y2="417.10" stroke="#000" stroke-width="1.15" />
<line x1="238.81" y1="413.30" x2="245.21" y2="413.30" stroke="#000" stroke-width="1.15" />
<line x1="238.81" y1="417.10" x2="245.21" y2="417.10" stroke="#000" stroke-width="1.15" />
<line x1="256.26" y1="337.00" x2="256.26" y2="346.70" stroke="#000" stroke-width="1.15" />
<line x1="253.06" y1="337.00" x2="259.46" y2="337.00" stroke="#000" stroke-width="1.15" />
<line x1="253.06" y1="346.70" x2="259.46" y2="346.70" stroke="#000" stroke-width="1.15" />
<line x1="270.52" y1="422.80" x2="270.52" y2="423.60" stroke="#000" stroke-width="1.15" />
<line x1="267.32" y1="422.80" x2="273.72" y2="422.80" stroke="#000" stroke-width="1.15" />
<line x1="267.32" y1="423.60" x2="273.72" y2="423.60" stroke="#000" stroke-width="1.15" />
<line x1="284.77" y1="423.90" x2="284.77" y2="424.10" stroke="#000" stroke-width="1.15" />
<line x1="281.57" y1="423.90" x2="287.97" y2="423.90" stroke="#000" stroke-width="1.15" />
<line x1="281.57" y1="424.10" x2="287.97" y2="424.10" stroke="#000" stroke-width="1.15" />
<line x1="299.03" y1="421.00" x2="299.03" y2="422.20" stroke="#000" stroke-width="1.15" />
<line x1="295.83" y1="421.00" x2="302.23" y2="421.00" stroke="#000" stroke-width="1.15" />
<line x1="295.83" y1="422.20" x2="302.23" y2="422.20" stroke="#000" stroke-width="1.15" />
<line x1="313.28" y1="421.00" x2="313.28" y2="423.00" stroke="#000" stroke-width="1.15" />
<line x1="310.08" y1="421.00" x2="316.48" y2="421.00" stroke="#000" stroke-width="1.15" />
<line x1="310.08" y1="423.00" x2="316.48" y2="423.00" stroke="#000" stroke-width="1.15" />
<line x1="327.54" y1="418.00" x2="327.54" y2="422.00" stroke="#000" stroke-width="1.15" />
<line x1="324.34" y1="418.00" x2="330.74" y2="418.00" stroke="#000" stroke-width="1.15" />
<line x1="324.34" y1="422.00" x2="330.74" y2="422.00" stroke="#000" stroke-width="1.15" />
<line x1="341.79" y1="418.50" x2="341.79" y2="419.50" stroke="#000" stroke-width="1.15" />
<line x1="338.59" y1="418.50" x2="344.99" y2="418.50" stroke="#000" stroke-width="1.15" />
<line x1="338.59" y1="419.50" x2="344.99" y2="419.50" stroke="#000" stroke-width="1.15" />
<line x1="356.05" y1="419.40" x2="356.05" y2="422.60" stroke="#000" stroke-width="1.15" />
<line x1="352.85" y1="419.40" x2="359.25" y2="419.40" stroke="#000" stroke-width="1.15" />
<line x1="352.85" y1="422.60" x2="359.25" y2="422.60" stroke="#000" stroke-width="1.15" />
<line x1="219.20" y1="374.50" x2="364.60" y2="374.50" stroke="#5A5A5A" stroke-width="0.8" stroke-dasharray="1.2 2.4"/>
<line x1="219.20" y1="407.40" x2="364.60" y2="407.40" stroke="#4E6677" stroke-width="1.0" />
<line x1="219.20" y1="332.90" x2="364.60" y2="332.90" stroke="#D0D0D0" stroke-width="1" />
<line x1="364.60" y1="332.90" x2="364.60" y2="428.90" stroke="#D0D0D0" stroke-width="1" />
<line x1="219.20" y1="332.40" x2="219.20" y2="429.40" stroke="#808080" stroke-width="1.05" />
<line x1="218.70" y1="428.90" x2="365.10" y2="428.90" stroke="#808080" stroke-width="1.05" />
<line x1="217.20" y1="424.50" x2="219.20" y2="424.50" stroke="#555555" stroke-width="0.8" />
<text x="217.30" y="427.44" font-size="8.2" text-anchor="end" fill="#4D4D4D" stroke="#4D4D4D" stroke-width="0.22" >0</text>
<line x1="217.20" y1="400.55" x2="219.20" y2="400.55" stroke="#555555" stroke-width="0.8" />
<text x="218.30" y="403.49" font-size="8.2" text-anchor="end" fill="#4D4D4D" stroke="#4D4D4D" stroke-width="0.22">2<tspan dx="-0.5"> </tspan><tspan font-size="6.56" dy="-0.5">×</tspan><tspan dy="0.5" dx="0.2"> 10</tspan><tspan font-size="4.59" dy="-2.46" dx="0.1">9</tspan></text>
<line x1="217.20" y1="376.60" x2="219.20" y2="376.60" stroke="#555555" stroke-width="0.8" />
<text x="218.30" y="379.54" font-size="8.2" text-anchor="end" fill="#4D4D4D" stroke="#4D4D4D" stroke-width="0.22">4<tspan dx="-0.5"> </tspan><tspan font-size="6.56" dy="-0.5">×</tspan><tspan dy="0.5" dx="0.2"> 10</tspan><tspan font-size="4.59" dy="-2.46" dx="0.1">9</tspan></text>
<line x1="217.20" y1="352.65" x2="219.20" y2="352.65" stroke="#555555" stroke-width="0.8" />
<text x="218.30" y="355.59" font-size="8.2" text-anchor="end" fill="#4D4D4D" stroke="#4D4D4D" stroke-width="0.22">6<tspan dx="-0.5"> </tspan><tspan font-size="6.56" dy="-0.5">×</tspan><tspan dy="0.5" dx="0.2"> 10</tspan><tspan font-size="4.59" dy="-2.46" dx="0.1">9</tspan></text>
<line x1="227.75" y1="428.90" x2="227.75" y2="430.90" stroke="#555555" stroke-width="0.8" />
<text x="227.75" y="438.00" font-size="8.2" text-anchor="middle" fill="#4D4D4D" stroke="#4D4D4D" stroke-width="0.22" >1</text>
<line x1="242.01" y1="428.90" x2="242.01" y2="430.90" stroke="#555555" stroke-width="0.8" />
<text x="242.01" y="438.00" font-size="8.2" text-anchor="middle" fill="#4D4D4D" stroke="#4D4D4D" stroke-width="0.22" >2</text>
<line x1="256.26" y1="428.90" x2="256.26" y2="430.90" stroke="#555555" stroke-width="0.8" />
<text x="256.26" y="438.00" font-size="8.2" text-anchor="middle" fill="#4D4D4D" stroke="#4D4D4D" stroke-width="0.22" >3</text>
<line x1="270.52" y1="428.90" x2="270.52" y2="430.90" stroke="#555555" stroke-width="0.8" />
<text x="270.52" y="438.00" font-size="8.2" text-anchor="middle" fill="#4D4D4D" stroke="#4D4D4D" stroke-width="0.22" >4</text>
<line x1="284.77" y1="428.90" x2="284.77" y2="430.90" stroke="#555555" stroke-width="0.8" />
<text x="284.77" y="438.00" font-size="8.2" text-anchor="middle" fill="#4D4D4D" stroke="#4D4D4D" stroke-width="0.22" >5</text>
<line x1="299.03" y1="428.90" x2="299.03" y2="430.90" stroke="#555555" stroke-width="0.8" />
<text x="299.03" y="438.00" font-size="8.2" text-anchor="middle" fill="#4D4D4D" stroke="#4D4D4D" stroke-width="0.22" >6</text>
<line x1="313.28" y1="428.90" x2="313.28" y2="430.90" stroke="#555555" stroke-width="0.8" />
<text x="313.28" y="438.00" font-size="8.2" text-anchor="middle" fill="#4D4D4D" stroke="#4D4D4D" stroke-width="0.22" >7</text>
<line x1="327.54" y1="428.90" x2="327.54" y2="430.90" stroke="#555555" stroke-width="0.8" />
<text x="327.54" y="438.00" font-size="8.2" text-anchor="middle" fill="#4D4D4D" stroke="#4D4D4D" stroke-width="0.22" >8</text>
<line x1="341.79" y1="428.90" x2="341.79" y2="430.90" stroke="#555555" stroke-width="0.8" />
<text x="341.79" y="438.00" font-size="8.2" text-anchor="middle" fill="#4D4D4D" stroke="#4D4D4D" stroke-width="0.22" >9</text>
<line x1="356.05" y1="428.90" x2="356.05" y2="430.90" stroke="#555555" stroke-width="0.8" />
<text x="356.05" y="438.00" font-size="8.2" text-anchor="middle" fill="#4D4D4D" stroke="#4D4D4D" stroke-width="0.22" >10</text>
<text x="204.80" y="446.50" font-size="8.25" text-anchor="middle" fill="#1A1A1A" stroke="#1A1A1A" stroke-width="0.22" >Donor</text>
<rect x="3.50" y="453.50" width="41.90" height="96.10" fill="#E0F3D8" />
<rect x="45.40" y="549.60" width="137.10" height="26.40" fill="#F5D6E0" />
<rect x="45.40" y="453.50" width="137.10" height="96.10" fill="#FFFFFF" />
<circle cx="51.50" cy="543.40" r="2.3" fill="#5D9E5C"/>
<circle cx="51.50" cy="543.00" r="2.3" fill="#FAD463"/>
<circle cx="51.50" cy="542.40" r="2.3" fill="#2A6EB6"/>
<circle cx="51.50" cy="541.60" r="2.3" fill="#0E4C3C"/>
<circle cx="51.50" cy="540.60" r="2.3" fill="#F89CA3"/>
<circle cx="51.50" cy="539.80" r="2.3" fill="#E3265A"/>
<circle cx="51.50" cy="539.20" r="2.3" fill="#5A2E60"/>
<circle cx="51.50" cy="525.50" r="2.3" fill="#6A9DB0"/>
<circle cx="149.10" cy="471.80" r="2.3" fill="#B898D6"/>
<circle cx="166.00" cy="479.50" r="2.3" fill="#EE885A"/>
<circle cx="176.40" cy="471.80" r="2.3" fill="#B898D6"/>
<path d="M51.50,533.96 L53.57,532.88 L55.64,531.80 L57.72,530.71 L59.79,529.62 L61.86,528.52 L63.93,527.41 L66.00,526.29 L68.07,525.16 L70.14,524.03 L72.22,522.88 L74.29,521.73 L76.36,520.57 L78.43,519.39 L80.50,518.21 L82.58,517.02 L84.65,515.82 L86.72,514.60 L88.79,513.38 L90.86,512.15 L92.93,510.91 L95.00,509.67 L97.08,508.41 L99.15,507.15 L101.22,505.88 L103.29,504.60 L105.36,503.31 L107.44,502.02 L109.51,500.72 L111.58,499.42 L113.65,498.11 L115.72,496.80 L117.79,495.48 L119.87,494.16 L121.94,492.83 L124.01,491.50 L126.08,490.16 L128.15,488.83 L130.22,487.49 L132.30,486.14 L134.37,484.80 L136.44,483.45 L138.51,482.10 L140.58,480.74 L142.65,479.39 L144.73,478.03 L146.80,476.67 L148.87,475.31 L150.94,473.95 L153.01,472.58 L155.08,471.22 L157.16,469.85 L159.23,468.48 L161.30,467.11 L163.37,465.74 L165.44,464.37 L167.51,463.00 L169.59,461.62 L171.66,460.25 L173.73,458.88 L175.80,457.50 L175.80,479.10 L173.73,480.09 L171.66,481.09 L169.59,482.09 L167.51,483.08 L165.44,484.08 L163.37,485.08 L161.30,486.08 L159.23,487.08 L157.16,488.08 L155.08,489.08 L153.01,490.09 L150.94,491.09 L148.87,492.10 L146.80,493.11 L144.73,494.12 L142.65,495.13 L140.58,496.15 L138.51,497.16 L136.44,498.18 L134.37,499.20 L132.30,500.23 L130.22,501.25 L128.15,502.28 L126.08,503.32 L124.01,504.35 L121.94,505.39 L119.87,506.43 L117.79,507.48 L115.72,508.53 L113.65,509.59 L111.58,510.65 L109.51,511.72 L107.44,512.79 L105.36,513.87 L103.29,514.95 L101.22,516.04 L99.15,517.14 L97.08,518.25 L95.00,519.36 L92.93,520.49 L90.86,521.62 L88.79,522.76 L86.72,523.91 L84.65,525.06 L82.58,526.23 L80.50,527.41 L78.43,528.60 L76.36,529.79 L74.29,531.00 L72.22,532.22 L70.14,533.44 L68.07,534.68 L66.00,535.92 L63.93,537.17 L61.86,538.43 L59.79,539.70 L57.72,540.98 L55.64,542.26 L53.57,543.55 L51.50,544.84 Z" fill="#999999" fill-opacity="0.33"/>
<line x1="51.50" y1="539.40" x2="175.80" y2="468.30" stroke="#3366FF" stroke-width="1.1" />
<text x="175.00" y="545.40" font-size="7.25" text-anchor="end" fill="#000" stroke="#000" stroke-width="0.22" >Spearman's ρ = 0.83 **</text>
<line x1="45.40" y1="453.50" x2="182.50" y2="453.50" stroke="#D0D0D0" stroke-width="1" />
<line x1="182.50" y1="453.50" x2="182.50" y2="549.60" stroke="#D0D0D0" stroke-width="1" />
<line x1="45.40" y1="453.00" x2="45.40" y2="550.10" stroke="#808080" stroke-width="1.05" />
<line x1="44.90" y1="549.60" x2="183.00" y2="549.60" stroke="#808080" stroke-width="1.05" />
<line x1="43.40" y1="543.80" x2="45.40" y2="543.80" stroke="#555555" stroke-width="0.8" />
<text x="43.50" y="546.74" font-size="8.2" text-anchor="end" fill="#4D4D4D" stroke="#4D4D4D" stroke-width="0.22" >0</text>
<line x1="43.40" y1="521.00" x2="45.40" y2="521.00" stroke="#555555" stroke-width="0.8" />
<text x="42.40" y="523.94" font-size="8.2" text-anchor="end" fill="#4D4D4D" stroke="#4D4D4D" stroke-width="0.22">2<tspan dx="-0.5"> </tspan><tspan font-size="6.56" dy="-0.5">×</tspan><tspan dy="0.5" dx="0.2"> 10</tspan><tspan font-size="4.59" dy="-2.46" dx="0.1">9</tspan></text>
<line x1="43.40" y1="498.20" x2="45.40" y2="498.20" stroke="#555555" stroke-width="0.8" />
<text x="42.40" y="501.14" font-size="8.2" text-anchor="end" fill="#4D4D4D" stroke="#4D4D4D" stroke-width="0.22">4<tspan dx="-0.5"> </tspan><tspan font-size="6.56" dy="-0.5">×</tspan><tspan dy="0.5" dx="0.2"> 10</tspan><tspan font-size="4.59" dy="-2.46" dx="0.1">9</tspan></text>
<line x1="43.40" y1="475.40" x2="45.40" y2="475.40" stroke="#555555" stroke-width="0.8" />
<text x="42.40" y="478.34" font-size="8.2" text-anchor="end" fill="#4D4D4D" stroke="#4D4D4D" stroke-width="0.22">6<tspan dx="-0.5"> </tspan><tspan font-size="6.56" dy="-0.5">×</tspan><tspan dy="0.5" dx="0.2"> 10</tspan><tspan font-size="4.59" dy="-2.46" dx="0.1">9</tspan></text>
<line x1="51.40" y1="549.60" x2="51.40" y2="551.60" stroke="#555555" stroke-width="0.8" />
<text x="51.40" y="558.30" font-size="8.2" text-anchor="middle" fill="#4D4D4D" stroke="#4D4D4D" stroke-width="0.22" >0</text>
<line x1="84.75" y1="549.60" x2="84.75" y2="551.60" stroke="#555555" stroke-width="0.8" />
<text x="84.75" y="558.30" font-size="8.2" text-anchor="middle" fill="#4D4D4D" stroke="#4D4D4D" stroke-width="0.22">5<tspan dx="-0.5"> </tspan><tspan font-size="6.56" dy="-0.5">×</tspan><tspan dy="0.5" dx="0.2"> 10</tspan><tspan font-size="4.59" dy="-2.46" dx="0.1">9</tspan></text>
<line x1="118.10" y1="549.60" x2="118.10" y2="551.60" stroke="#555555" stroke-width="0.8" />
<text x="118.10" y="558.30" font-size="8.2" text-anchor="middle" fill="#4D4D4D" stroke="#4D4D4D" stroke-width="0.22">1<tspan dx="-0.5"> </tspan><tspan font-size="6.56" dy="-0.5">×</tspan><tspan dy="0.5" dx="0.2"> 10</tspan><tspan font-size="4.59" dy="-2.46" dx="0.1">10</tspan></text>
<line x1="151.45" y1="549.60" x2="151.45" y2="551.60" stroke="#555555" stroke-width="0.8" />
<text x="151.45" y="558.30" font-size="8.2" text-anchor="middle" fill="#4D4D4D" stroke="#4D4D4D" stroke-width="0.22">1.5<tspan dx="-0.5"> </tspan><tspan font-size="6.56" dy="-0.5">×</tspan><tspan dy="0.5" dx="0.2"> 10</tspan><tspan font-size="4.59" dy="-2.46" dx="0.1">10</tspan></text>
<text transform="translate(14.20,501.60) rotate(-90)" font-size="8.25" text-anchor="middle" fill="#1A1A1A" stroke="#1A1A1A" stroke-width="0.22" dy="0">Methanogens (cells mL<tspan font-size="5.2" dy="-3.9">-1</tspan><tspan dy="3.9">)</tspan></text>
<text x="114.00" y="570.50" font-size="8.25" text-anchor="middle" fill="#1A1A1A" stroke="#1A1A1A" stroke-width="0.22" >Archaea abundance (cells mL<tspan font-size="5.2" dy="-3.9">-1</tspan><tspan dy="3.9">)</tspan></text>
<rect x="184.90" y="453.50" width="42.00" height="96.10" fill="#E0F3D8" />
<rect x="226.90" y="549.60" width="137.60" height="26.40" fill="#F5D6E0" />
<rect x="226.90" y="453.50" width="137.60" height="96.10" fill="#FFFFFF" />
<circle cx="233.10" cy="545.00" r="2.3" fill="#E3265A"/>
<circle cx="233.10" cy="544.20" r="2.3" fill="#5D9E5C"/>
<circle cx="233.10" cy="543.40" r="2.3" fill="#FAD463"/>
<circle cx="233.10" cy="542.60" r="2.3" fill="#2A6EB6"/>
<circle cx="233.10" cy="541.80" r="2.3" fill="#0E4C3C"/>
<circle cx="233.10" cy="541.00" r="2.3" fill="#F89CA3"/>
<circle cx="233.10" cy="540.00" r="2.3" fill="#5A2E60"/>
<circle cx="233.10" cy="535.90" r="2.3" fill="#6A9DB0"/>
<circle cx="330.40" cy="475.90" r="2.3" fill="#B898D6"/>
<circle cx="347.40" cy="465.00" r="2.3" fill="#EE885A"/>
<circle cx="358.30" cy="475.90" r="2.3" fill="#B898D6"/>
<path d="M233.10,536.03 L235.18,534.86 L237.25,533.69 L239.33,532.52 L241.41,531.34 L243.48,530.15 L245.56,528.97 L247.64,527.78 L249.71,526.58 L251.79,525.38 L253.87,524.17 L255.94,522.96 L258.02,521.74 L260.10,520.52 L262.17,519.29 L264.25,518.05 L266.33,516.81 L268.40,515.56 L270.48,514.31 L272.56,513.05 L274.63,511.78 L276.71,510.51 L278.79,509.24 L280.86,507.95 L282.94,506.66 L285.02,505.37 L287.09,504.07 L289.17,502.76 L291.25,501.45 L293.32,500.14 L295.40,498.82 L297.48,497.49 L299.55,496.16 L301.63,494.83 L303.71,493.49 L305.78,492.15 L307.86,490.81 L309.94,489.46 L312.01,488.11 L314.09,486.76 L316.17,485.40 L318.24,484.05 L320.32,482.68 L322.40,481.32 L324.47,479.96 L326.55,478.59 L328.63,477.22 L330.70,475.85 L332.78,474.48 L334.86,473.10 L336.93,471.73 L339.01,470.35 L341.09,468.97 L343.16,467.59 L345.24,466.21 L347.32,464.83 L349.39,463.44 L351.47,462.06 L353.55,460.67 L355.62,459.29 L357.70,457.90 L357.70,473.10 L355.62,474.22 L353.55,475.35 L351.47,476.47 L349.39,477.60 L347.32,478.72 L345.24,479.85 L343.16,480.98 L341.09,482.11 L339.01,483.24 L336.93,484.37 L334.86,485.51 L332.78,486.64 L330.70,487.78 L328.63,488.92 L326.55,490.06 L324.47,491.20 L322.40,492.35 L320.32,493.50 L318.24,494.64 L316.17,495.80 L314.09,496.95 L312.01,498.11 L309.94,499.27 L307.86,500.43 L305.78,501.60 L303.71,502.77 L301.63,503.94 L299.55,505.12 L297.48,506.30 L295.40,507.48 L293.32,508.67 L291.25,509.87 L289.17,511.07 L287.09,512.27 L285.02,513.48 L282.94,514.70 L280.86,515.92 L278.79,517.14 L276.71,518.38 L274.63,519.62 L272.56,520.86 L270.48,522.11 L268.40,523.37 L266.33,524.63 L264.25,525.90 L262.17,527.17 L260.10,528.45 L258.02,529.74 L255.94,531.03 L253.87,532.33 L251.79,533.63 L249.71,534.94 L247.64,536.25 L245.56,537.57 L243.48,538.90 L241.41,540.22 L239.33,541.55 L237.25,542.89 L235.18,544.23 L233.10,545.57 Z" fill="#999999" fill-opacity="0.33"/>
<line x1="233.10" y1="540.80" x2="357.70" y2="465.50" stroke="#3366FF" stroke-width="1.1" />
<text x="357.70" y="545.40" font-size="7.25" text-anchor="end" fill="#000" stroke="#000" stroke-width="0.22" >Spearman's ρ = 0.69 *</text>
<line x1="226.90" y1="453.50" x2="364.50" y2="453.50" stroke="#D0D0D0" stroke-width="1" />
<line x1="364.50" y1="453.50" x2="364.50" y2="549.60" stroke="#D0D0D0" stroke-width="1" />
<line x1="226.90" y1="453.00" x2="226.90" y2="550.10" stroke="#808080" stroke-width="1.05" />
<line x1="226.40" y1="549.60" x2="365.00" y2="549.60" stroke="#808080" stroke-width="1.05" />
<line x1="224.90" y1="545.50" x2="226.90" y2="545.50" stroke="#555555" stroke-width="0.8" />
<text x="225.00" y="548.44" font-size="8.2" text-anchor="end" fill="#4D4D4D" stroke="#4D4D4D" stroke-width="0.22" >0</text>
<line x1="224.90" y1="522.10" x2="226.90" y2="522.10" stroke="#555555" stroke-width="0.8" />
<text x="224.60" y="525.04" font-size="8.2" text-anchor="end" fill="#4D4D4D" stroke="#4D4D4D" stroke-width="0.22">2<tspan dx="-0.5"> </tspan><tspan font-size="6.56" dy="-0.5">×</tspan><tspan dy="0.5" dx="0.2"> 10</tspan><tspan font-size="4.59" dy="-2.46" dx="0.1">9</tspan></text>
<line x1="224.90" y1="498.70" x2="226.90" y2="498.70" stroke="#555555" stroke-width="0.8" />
<text x="224.60" y="501.64" font-size="8.2" text-anchor="end" fill="#4D4D4D" stroke="#4D4D4D" stroke-width="0.22">4<tspan dx="-0.5"> </tspan><tspan font-size="6.56" dy="-0.5">×</tspan><tspan dy="0.5" dx="0.2"> 10</tspan><tspan font-size="4.59" dy="-2.46" dx="0.1">9</tspan></text>
<line x1="224.90" y1="475.30" x2="226.90" y2="475.30" stroke="#555555" stroke-width="0.8" />
<text x="224.60" y="478.24" font-size="8.2" text-anchor="end" fill="#4D4D4D" stroke="#4D4D4D" stroke-width="0.22">6<tspan dx="-0.5"> </tspan><tspan font-size="6.56" dy="-0.5">×</tspan><tspan dy="0.5" dx="0.2"> 10</tspan><tspan font-size="4.59" dy="-2.46" dx="0.1">9</tspan></text>
<line x1="233.10" y1="549.60" x2="233.10" y2="551.60" stroke="#555555" stroke-width="0.8" />
<text x="233.10" y="558.30" font-size="8.2" text-anchor="middle" fill="#4D4D4D" stroke="#4D4D4D" stroke-width="0.22" >0</text>
<line x1="266.80" y1="549.60" x2="266.80" y2="551.60" stroke="#555555" stroke-width="0.8" />
<text x="266.80" y="558.30" font-size="8.2" text-anchor="middle" fill="#4D4D4D" stroke="#4D4D4D" stroke-width="0.22">5<tspan dx="-0.5"> </tspan><tspan font-size="6.56" dy="-0.5">×</tspan><tspan dy="0.5" dx="0.2"> 10</tspan><tspan font-size="4.59" dy="-2.46" dx="0.1">9</tspan></text>
<line x1="300.50" y1="549.60" x2="300.50" y2="551.60" stroke="#555555" stroke-width="0.8" />
<text x="300.50" y="558.30" font-size="8.2" text-anchor="middle" fill="#4D4D4D" stroke="#4D4D4D" stroke-width="0.22">1<tspan dx="-0.5"> </tspan><tspan font-size="6.56" dy="-0.5">×</tspan><tspan dy="0.5" dx="0.2"> 10</tspan><tspan font-size="4.59" dy="-2.46" dx="0.1">10</tspan></text>
<line x1="334.20" y1="549.60" x2="334.20" y2="551.60" stroke="#555555" stroke-width="0.8" />
<text x="334.20" y="558.30" font-size="8.2" text-anchor="middle" fill="#4D4D4D" stroke="#4D4D4D" stroke-width="0.22">1.5<tspan dx="-0.5"> </tspan><tspan font-size="6.56" dy="-0.5">×</tspan><tspan dy="0.5" dx="0.2"> 10</tspan><tspan font-size="4.59" dy="-2.46" dx="0.1">10</tspan></text>
<text transform="translate(196.70,501.60) rotate(-90)" font-size="8.25" text-anchor="middle" fill="#1A1A1A" stroke="#1A1A1A" stroke-width="0.22" dy="0">Methanogens (cells mL<tspan font-size="5.2" dy="-3.9">-1</tspan><tspan dy="3.9">)</tspan></text>
<text x="295.60" y="570.50" font-size="8.25" text-anchor="middle" fill="#1A1A1A" stroke="#1A1A1A" stroke-width="0.22" >Archaea abundance (cells mL<tspan font-size="5.2" dy="-3.9">-1</tspan><tspan dy="3.9">)</tspan></text>
<rect x="389.90" y="549.80" width="156.10" height="26.00" fill="#F5D6E0" />
<rect x="534.30" y="453.70" width="11.70" height="96.10" fill="#F5D6E0" />
<text transform="translate(539.00,501.20) rotate(90)" font-size="8.25" text-anchor="middle" fill="#1A1A1A" stroke="#1A1A1A" stroke-width="0.22" dy="2.9">16S - Universal primers</text>
<rect x="389.90" y="453.70" width="144.40" height="96.10" fill="#FFFFFF" />
<rect x="396.80" y="454.99" width="91.20" height="7.72" fill="#B898D6" stroke="#4A4A4A" stroke-width="0.7"/>
<rect x="396.80" y="463.57" width="116.90" height="7.72" fill="#B898D6" stroke="#4A4A4A" stroke-width="0.7"/>
<line x1="396.80" y1="472.15" x2="396.80" y2="479.87" stroke="#4A4A4A" stroke-width="0.7" />
<rect x="396.80" y="480.73" width="106.60" height="7.72" fill="#EE885A" stroke="#4A4A4A" stroke-width="0.7"/>
<line x1="396.80" y1="489.31" x2="396.80" y2="497.03" stroke="#4A4A4A" stroke-width="0.7" />
<line x1="396.80" y1="497.89" x2="396.80" y2="505.61" stroke="#4A4A4A" stroke-width="0.7" />
<line x1="396.80" y1="506.47" x2="396.80" y2="514.19" stroke="#4A4A4A" stroke-width="0.7" />
<line x1="396.80" y1="515.05" x2="396.80" y2="522.77" stroke="#4A4A4A" stroke-width="0.7" />
<line x1="396.80" y1="523.63" x2="396.80" y2="531.35" stroke="#4A4A4A" stroke-width="0.7" />
<line x1="396.80" y1="532.21" x2="396.80" y2="539.93" stroke="#4A4A4A" stroke-width="0.7" />
<line x1="396.80" y1="540.79" x2="396.80" y2="548.51" stroke="#4A4A4A" stroke-width="0.7" />
<line x1="476.50" y1="458.85" x2="499.20" y2="458.85" stroke="#000" stroke-width="1.1" />
<line x1="476.50" y1="457.05" x2="476.50" y2="460.65" stroke="#000" stroke-width="1.1" />
<line x1="499.20" y1="457.05" x2="499.20" y2="460.65" stroke="#000" stroke-width="1.1" />
<line x1="499.60" y1="467.43" x2="528.00" y2="467.43" stroke="#000" stroke-width="1.1" />
<line x1="499.60" y1="465.63" x2="499.60" y2="469.23" stroke="#000" stroke-width="1.1" />
<line x1="528.00" y1="465.63" x2="528.00" y2="469.23" stroke="#000" stroke-width="1.1" />
<line x1="499.20" y1="484.59" x2="507.40" y2="484.59" stroke="#000" stroke-width="1.1" />
<line x1="499.20" y1="482.79" x2="499.20" y2="486.39" stroke="#000" stroke-width="1.1" />
<line x1="507.40" y1="482.79" x2="507.40" y2="486.39" stroke="#000" stroke-width="1.1" />
<line x1="396.80" y1="473.71" x2="396.80" y2="478.31" stroke="#000" stroke-width="1.4" />
<line x1="396.80" y1="472.15" x2="396.80" y2="479.87" stroke="#222" stroke-width="0.8" />
<line x1="396.80" y1="490.87" x2="396.80" y2="495.47" stroke="#000" stroke-width="1.4" />
<line x1="396.80" y1="489.31" x2="396.80" y2="497.03" stroke="#222" stroke-width="0.8" />
<line x1="396.80" y1="499.45" x2="396.80" y2="504.05" stroke="#000" stroke-width="1.4" />
<line x1="396.80" y1="497.89" x2="396.80" y2="505.61" stroke="#222" stroke-width="0.8" />
<line x1="396.80" y1="508.03" x2="396.80" y2="512.63" stroke="#000" stroke-width="1.4" />
<line x1="396.80" y1="506.47" x2="396.80" y2="514.19" stroke="#222" stroke-width="0.8" />
<line x1="396.80" y1="516.61" x2="396.80" y2="521.21" stroke="#000" stroke-width="1.4" />
<line x1="396.80" y1="515.05" x2="396.80" y2="522.77" stroke="#222" stroke-width="0.8" />
<line x1="396.80" y1="525.19" x2="396.80" y2="529.79" stroke="#000" stroke-width="1.4" />
<line x1="396.80" y1="523.63" x2="396.80" y2="531.35" stroke="#222" stroke-width="0.8" />
<line x1="396.80" y1="533.77" x2="396.80" y2="538.37" stroke="#000" stroke-width="1.4" />
<line x1="396.80" y1="532.21" x2="396.80" y2="539.93" stroke="#222" stroke-width="0.8" />
<line x1="396.80" y1="542.35" x2="396.80" y2="546.95" stroke="#000" stroke-width="1.4" />
<line x1="396.80" y1="540.79" x2="396.80" y2="548.51" stroke="#222" stroke-width="0.8" />
<line x1="389.90" y1="453.70" x2="534.30" y2="453.70" stroke="#D0D0D0" stroke-width="1" />
<line x1="534.30" y1="453.70" x2="534.30" y2="549.80" stroke="#D0D0D0" stroke-width="1" />
<line x1="389.90" y1="453.20" x2="389.90" y2="550.30" stroke="#808080" stroke-width="1.05" />
<line x1="389.40" y1="549.80" x2="534.80" y2="549.80" stroke="#808080" stroke-width="1.05" />
<line x1="387.90" y1="458.85" x2="389.90" y2="458.85" stroke="#555555" stroke-width="0.8" />
<text x="388.00" y="461.78" font-size="8.2" text-anchor="end" fill="#4D4D4D" stroke="#4D4D4D" stroke-width="0.22" >1</text>
<line x1="387.90" y1="467.43" x2="389.90" y2="467.43" stroke="#555555" stroke-width="0.8" />
<text x="388.00" y="470.36" font-size="8.2" text-anchor="end" fill="#4D4D4D" stroke="#4D4D4D" stroke-width="0.22" >1b</text>
<line x1="387.90" y1="476.01" x2="389.90" y2="476.01" stroke="#555555" stroke-width="0.8" />
<text x="388.00" y="478.94" font-size="8.2" text-anchor="end" fill="#4D4D4D" stroke="#4D4D4D" stroke-width="0.22" >2</text>
<line x1="387.90" y1="484.59" x2="389.90" y2="484.59" stroke="#555555" stroke-width="0.8" />
<text x="388.00" y="487.52" font-size="8.2" text-anchor="end" fill="#4D4D4D" stroke="#4D4D4D" stroke-width="0.22" >3</text>
<line x1="387.90" y1="493.17" x2="389.90" y2="493.17" stroke="#555555" stroke-width="0.8" />
<text x="388.00" y="496.11" font-size="8.2" text-anchor="end" fill="#4D4D4D" stroke="#4D4D4D" stroke-width="0.22" >4</text>
<line x1="387.90" y1="501.75" x2="389.90" y2="501.75" stroke="#555555" stroke-width="0.8" />
<text x="388.00" y="504.69" font-size="8.2" text-anchor="end" fill="#4D4D4D" stroke="#4D4D4D" stroke-width="0.22" >5</text>
<line x1="387.90" y1="510.33" x2="389.90" y2="510.33" stroke="#555555" stroke-width="0.8" />
<text x="388.00" y="513.27" font-size="8.2" text-anchor="end" fill="#4D4D4D" stroke="#4D4D4D" stroke-width="0.22" >6</text>
<line x1="387.90" y1="518.91" x2="389.90" y2="518.91" stroke="#555555" stroke-width="0.8" />
<text x="388.00" y="521.85" font-size="8.2" text-anchor="end" fill="#4D4D4D" stroke="#4D4D4D" stroke-width="0.22" >7</text>
<line x1="387.90" y1="527.49" x2="389.90" y2="527.49" stroke="#555555" stroke-width="0.8" />
<text x="388.00" y="530.43" font-size="8.2" text-anchor="end" fill="#4D4D4D" stroke="#4D4D4D" stroke-width="0.22" >8</text>
<line x1="387.90" y1="536.07" x2="389.90" y2="536.07" stroke="#555555" stroke-width="0.8" />
<text x="388.00" y="539.01" font-size="8.2" text-anchor="end" fill="#4D4D4D" stroke="#4D4D4D" stroke-width="0.22" >9</text>
<line x1="387.90" y1="544.65" x2="389.90" y2="544.65" stroke="#555555" stroke-width="0.8" />
<text x="388.00" y="547.59" font-size="8.2" text-anchor="end" fill="#4D4D4D" stroke="#4D4D4D" stroke-width="0.22" >10</text>
<line x1="396.60" y1="549.80" x2="396.60" y2="551.80" stroke="#555555" stroke-width="0.8" />
<text x="396.60" y="558.20" font-size="8.2" text-anchor="middle" fill="#4D4D4D" stroke="#4D4D4D" stroke-width="0.22" >0</text>
<line x1="427.90" y1="549.80" x2="427.90" y2="551.80" stroke="#555555" stroke-width="0.8" />
<text x="426.40" y="558.20" font-size="8.2" text-anchor="middle" fill="#4D4D4D" stroke="#4D4D4D" stroke-width="0.22">5<tspan dx="-0.5"> </tspan><tspan font-size="6.56" dy="-0.5">×</tspan><tspan dy="0.5" dx="0.2"> 10</tspan><tspan font-size="4.59" dy="-2.46" dx="0.1">9</tspan></text>
<line x1="459.20" y1="549.80" x2="459.20" y2="551.80" stroke="#555555" stroke-width="0.8" />
<text x="460.00" y="558.20" font-size="8.2" text-anchor="middle" fill="#4D4D4D" stroke="#4D4D4D" stroke-width="0.22">1<tspan dx="-0.5"> </tspan><tspan font-size="6.56" dy="-0.5">×</tspan><tspan dy="0.5" dx="0.2"> 10</tspan><tspan font-size="4.59" dy="-2.46" dx="0.1">10</tspan></text>
<line x1="490.50" y1="549.80" x2="490.50" y2="551.80" stroke="#555555" stroke-width="0.8" />
<text x="493.60" y="558.20" font-size="8.2" text-anchor="middle" fill="#4D4D4D" stroke="#4D4D4D" stroke-width="0.22">1.5<tspan dx="-0.5"> </tspan><tspan font-size="6.56" dy="-0.5">×</tspan><tspan dy="0.5" dx="0.2"> 10</tspan><tspan font-size="4.59" dy="-2.46" dx="0.1">10</tspan></text>
<text transform="translate(369.90,501.60) rotate(90)" font-size="8.25" text-anchor="middle" fill="#1A1A1A" stroke="#1A1A1A" stroke-width="0.22" dy="0">Donor</text>
<text x="462.20" y="570.00" font-size="8.25" text-anchor="middle" fill="#1A1A1A" stroke="#1A1A1A" stroke-width="0.22" >Archaea abundance (cells mL<tspan font-size="5.2" dy="-3.9">-1</tspan><tspan dy="3.9">)</tspan></text>
<text x="457.70" y="321.70" font-size="7.5" text-anchor="middle" fill="#000" stroke="#000" stroke-width="0.22" font-weight="bold">Donor</text>
<rect x="406.00" y="326.60" width="8.40" height="8.40" fill="#B898D6" />
<text x="418.60" y="333.10" font-size="7.5" text-anchor="start" fill="#1A1A1A" stroke="#1A1A1A" stroke-width="0.22" >1</text>
<rect x="406.00" y="335.60" width="8.40" height="8.40" fill="#6A9DB0" />
<text x="418.60" y="342.10" font-size="7.5" text-anchor="start" fill="#1A1A1A" stroke="#1A1A1A" stroke-width="0.22" >2</text>
<rect x="426.80" y="326.60" width="8.40" height="8.40" fill="#EE885A" />
<text x="439.40" y="333.10" font-size="7.5" text-anchor="start" fill="#1A1A1A" stroke="#1A1A1A" stroke-width="0.22" >3</text>
<rect x="426.80" y="335.60" width="8.40" height="8.40" fill="#F89CA3" />
<text x="439.40" y="342.10" font-size="7.5" text-anchor="start" fill="#1A1A1A" stroke="#1A1A1A" stroke-width="0.22" >4</text>
<rect x="447.60" y="326.60" width="8.40" height="8.40" fill="#E3265A" />
<text x="460.20" y="333.10" font-size="7.5" text-anchor="start" fill="#1A1A1A" stroke="#1A1A1A" stroke-width="0.22" >5</text>
<rect x="447.60" y="335.60" width="8.40" height="8.40" fill="#0E4C3C" />
<text x="460.20" y="342.10" font-size="7.5" text-anchor="start" fill="#1A1A1A" stroke="#1A1A1A" stroke-width="0.22" >6</text>
<rect x="468.40" y="326.60" width="8.40" height="8.40" fill="#2A6EB6" />
<text x="481.00" y="333.10" font-size="7.5" text-anchor="start" fill="#1A1A1A" stroke="#1A1A1A" stroke-width="0.22" >7</text>
<rect x="468.40" y="335.60" width="8.40" height="8.40" fill="#FAD463" />
<text x="481.00" y="342.10" font-size="7.5" text-anchor="start" fill="#1A1A1A" stroke="#1A1A1A" stroke-width="0.22" >8</text>
<rect x="489.20" y="326.60" width="8.40" height="8.40" fill="#5A2E60" />
<text x="501.80" y="333.10" font-size="7.5" text-anchor="start" fill="#1A1A1A" stroke="#1A1A1A" stroke-width="0.22" >9</text>
<rect x="489.20" y="335.60" width="8.40" height="8.40" fill="#5D9E5C" />
<text x="501.80" y="342.10" font-size="7.5" text-anchor="start" fill="#1A1A1A" stroke="#1A1A1A" stroke-width="0.22" >10</text>
<line x1="406.60" y1="369.00" x2="414.00" y2="369.00" stroke="#7890A0" stroke-width="1.0" />
<line x1="406.60" y1="378.00" x2="414.00" y2="378.00" stroke="#C8C8C8" stroke-width="0.8" stroke-dasharray="1 1.5"/>
<text x="419.00" y="371.40" font-size="7.5" text-anchor="start" fill="#1A1A1A" stroke="#1A1A1A" stroke-width="0.22" >Limit of detection</text>
<text x="419.00" y="380.60" font-size="7.5" text-anchor="start" fill="#1A1A1A" stroke="#1A1A1A" stroke-width="0.22" >Limit of quantification</text>
<text x="457.40" y="400.50" font-size="7.5" text-anchor="middle" fill="#000" stroke="#000" stroke-width="0.22" font-weight="bold">Genus</text>
<defs><pattern id="hatch" patternUnits="userSpaceOnUse" width="4.2" height="4.2" patternTransform="translate(413,414) rotate(45)"><rect width="4.2" height="4.2" fill="#5E5E5E"/><line x1="0.5" y1="0" x2="0.5" y2="4.2" stroke="#2E2E2E" stroke-width="0.9"/></pattern></defs>
<rect x="413.10" y="404.90" width="9.20" height="9.40" fill="#575757" stroke="#333" stroke-width="0.6"/>
<rect x="413.10" y="414.30" width="9.20" height="9.40" fill="url(#hatch)" stroke="#333" stroke-width="0.6"/>
<text x="502.60" y="412.80" font-size="7.5" text-anchor="end" fill="#1A1A1A" stroke="#1A1A1A" stroke-width="0.22" font-style="italic">Methanobrevibacter</text>
<text x="502.60" y="421.60" font-size="7.5" text-anchor="end" fill="#1A1A1A" stroke="#1A1A1A" stroke-width="0.22" font-style="italic">Methanomassiliicoccus</text>
</svg>
</body></html>
